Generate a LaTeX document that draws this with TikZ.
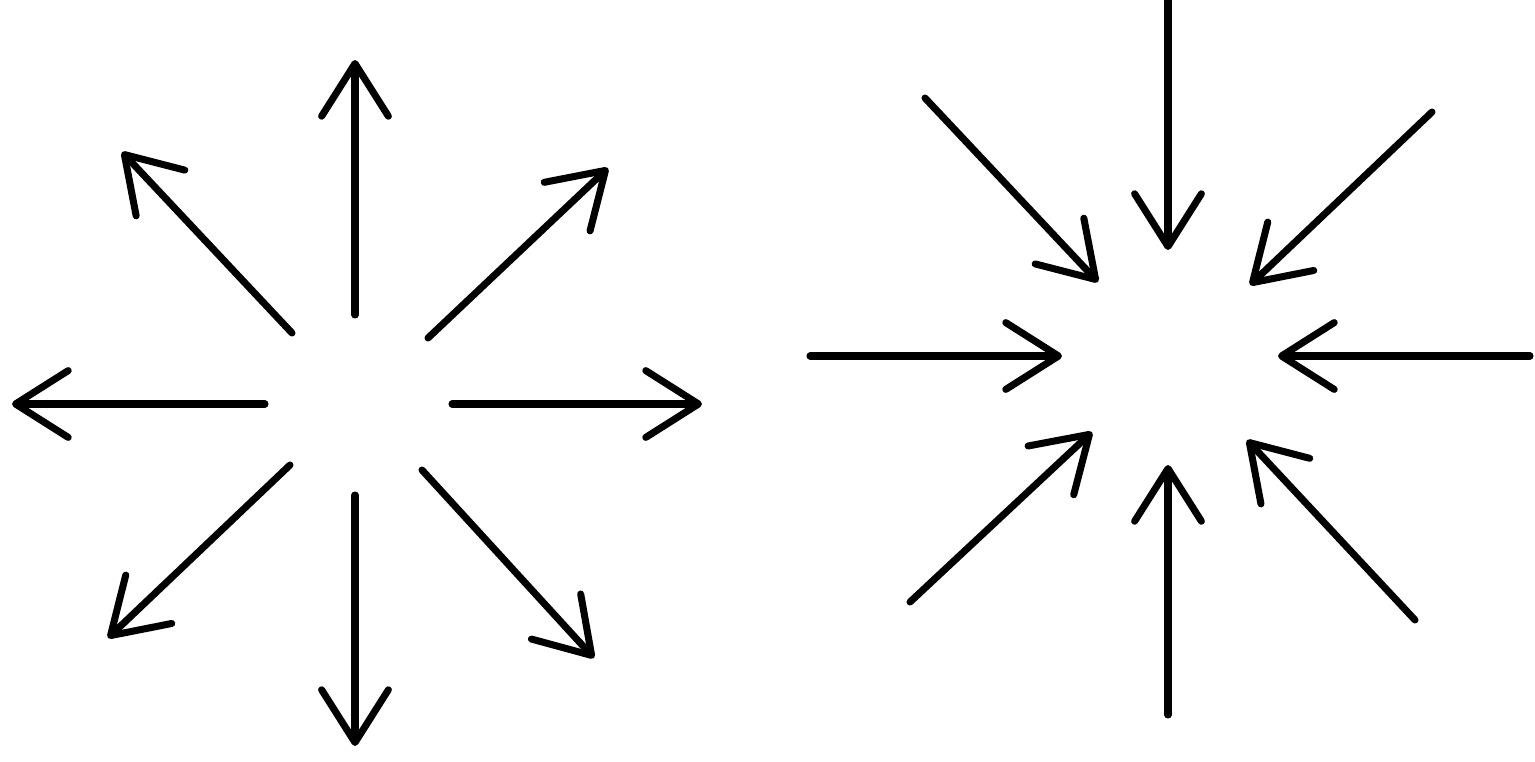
\documentclass[tikz,border=0pt]{standalone}
\usetikzlibrary{arrows.meta}
\begin{document}
\begin{tikzpicture}[x=0.02cm,y=-0.02cm,
  arr/.style={line width=4pt,line cap=round,line join=round,
    -{Straight Barb[length=30pt,width=38pt,round]}}]
\useasboundingbox[fill=white] (0,0) rectangle (1535,761);
% left group: outward
\coordinate (lus) at (355,315); \coordinate (lue) at (355,60);
\coordinate (lds) at (355,495); \coordinate (lde) at (355,746);
\coordinate (lls) at (265,404); \coordinate (lle) at (12,404);
\coordinate (lrs) at (452,404); \coordinate (lre) at (702,404);
\coordinate (luls) at (292,333); \coordinate (lule) at (122,152);
\coordinate (lurs) at (428,338); \coordinate (lure) at (608,168);
\coordinate (ldls) at (290,465); \coordinate (ldle) at (108,638);
\coordinate (ldrs) at (422,470); \coordinate (ldre) at (594,658);
\foreach \a in {lu,ld,ll,lr,lul,lur,ldl,ldr}
  \draw[arr] (\a s) -- (\a e);
% right group: inward
\coordinate (rts) at (1168,0); \coordinate (rte) at (1168,250);
\coordinate (rbs) at (1168,715); \coordinate (rbe) at (1168,465);
\coordinate (rls) at (810,356); \coordinate (rle) at (1062,356);
\coordinate (rrs) at (1530,356); \coordinate (rre) at (1278,356);
\coordinate (rtls) at (925,98); \coordinate (rtle) at (1098,282);
\coordinate (rtrs) at (1432,112); \coordinate (rtre) at (1250,285);
\coordinate (rbls) at (910,602); \coordinate (rble) at (1092,432);
\coordinate (rbrs) at (1415,620); \coordinate (rbre) at (1247,440);
\foreach \a in {rt,rb,rl,rr,rtl,rtr,rbl,rbr}
  \draw[arr] (\a s) -- (\a e);
\end{tikzpicture}
\end{document}
